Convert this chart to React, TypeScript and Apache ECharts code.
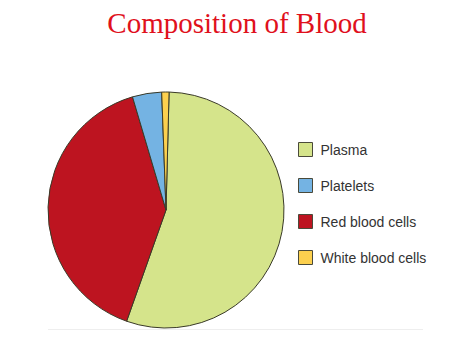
import React, { useEffect, useRef } from "react";
import * as echarts from "echarts";

const titleText = "Composition of Blood";
const categories = ["Plasma", "Red blood cells", "Platelets", "White blood cells"];
const values = [55, 40, 4, 1];
const legendOrder = ["Plasma", "Platelets", "Red blood cells", "White blood cells"];
const colors = ["#d5e48b", "#bd1420", "#74b3e3", "#fcd04e"];

export default function App() {
  const ref = useRef<HTMLDivElement>(null);
  useEffect(() => {
    if (!ref.current) return;
    const chart = echarts.init(ref.current, undefined, { renderer: "svg" });
    chart.setOption({
      animation: false,
      backgroundColor: "#ffffff",
      title: {
        text: titleText,
        left: "center",
        top: 3,
        textStyle: {
          fontFamily: "Liberation Serif, Times New Roman, serif",
          fontWeight: "normal",
          fontSize: 29,
          color: "#e0101c",
        },
      },
      legend: {
        orient: "vertical",
        left: 293,
        top: 137,
        itemWidth: 14,
        itemHeight: 14,
        itemGap: 21,
        icon: "rect",
        data: legendOrder,
        itemStyle: { borderColor: "#4a4a3a", borderWidth: 1 },
        textStyle: {
          fontFamily: "Liberation Sans, Arial, sans-serif",
          fontSize: 14,
          color: "#333333",
          padding: [0, 0, 0, 3],
        },
      },
      graphic: [
        {
          type: "line",
          shape: { x1: 48, y1: 329.5, x2: 423, y2: 329.5 },
          style: { stroke: "#eeeeee", lineWidth: 1 },
        },
      ],
      series: [
        {
          type: "pie",
          center: [166, 210],
          radius: 118,
          startAngle: 88.5,
          clockwise: true,
          label: { show: false },
          labelLine: { show: false },
          emphasis: { disabled: true },
          itemStyle: { borderColor: "#3a3a28", borderWidth: 1 },
          data: categories.map((name, i) => ({
            name,
            value: values[i],
            itemStyle: { color: colors[i] },
          })),
        },
      ],
    });
    return () => chart.dispose();
  }, []);
  return (
    <div
      ref={ref}
      style={{ position: "absolute", left: 0, top: 0, width: 474, height: 355 }}
    />
  );
}
